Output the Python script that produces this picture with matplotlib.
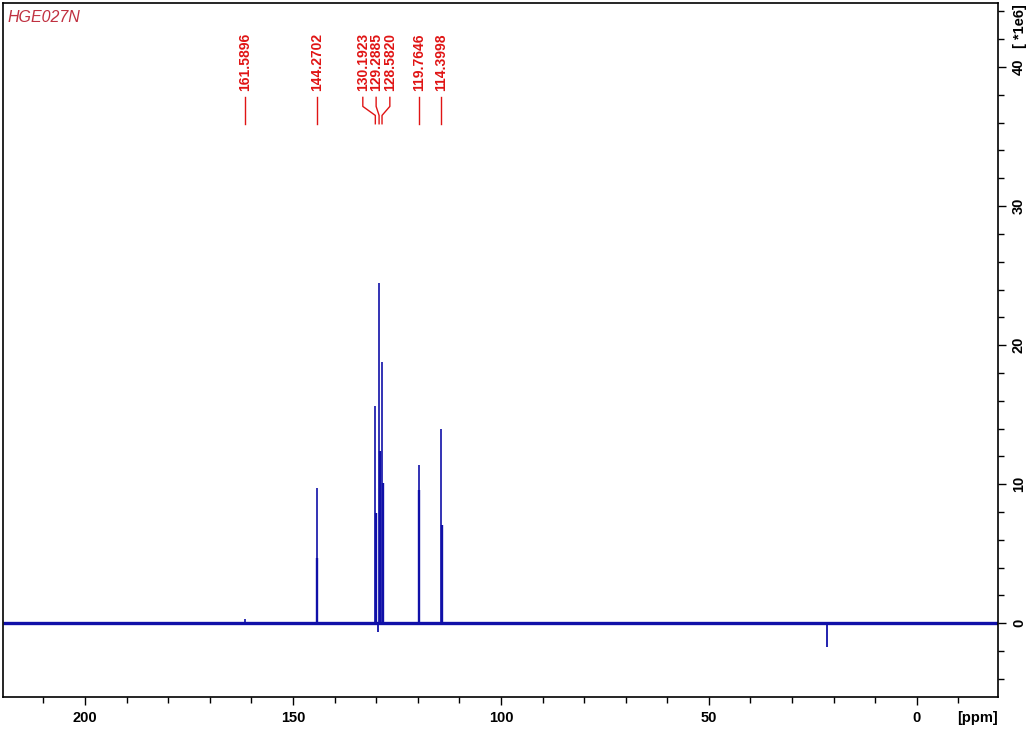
import matplotlib.pyplot as plt
from matplotlib import transforms

plt.rcParams['font.family'] = ['Liberation Sans', 'DejaVu Sans']

# peaks (ppm, tallest point, second point in the peak, in *1e6)
peak_ppm = [161.5896, 144.2702, 130.1923, 129.2885, 128.5820, 119.7646, 114.3998]
peak_top = [0.3, 9.7, 15.6, 24.5, 18.8, 11.4, 14.0]
peak_side = [0.1, 4.7, 7.9, 12.4, 10.1, 9.6, 7.1]
neg_ppm = [21.5, 129.5]
neg_val = [-1.7, -0.6]

# peak label texts and where the labels sit (ppm)
label_text = ['161.5896', '144.2702', '130.1923', '129.2885', '128.5820', '119.7646', '114.3998']
label_ppm = [161.5896, 144.2702, 133.2, 130.0, 126.7, 119.7646, 114.3998]

x_range = (219.7, -19.5)
y_range = (-5.3, 44.6)

blue = '#1010a8'
red = '#e01414'

fig = plt.figure(figsize=(10.33, 7.30), dpi=100)
ax = fig.add_axes([3 / 1033, 33 / 730, 995 / 1033, 694 / 730])

# baseline + peaks
ax.plot(x_range, [0, 0], color=blue, lw=2.4, solid_capstyle='butt')
ax.vlines(peak_ppm, 0, peak_top, color=blue, lw=1.2)
ax.vlines([p - 0.12 for p in peak_ppm], 0, peak_side, color=blue, lw=1.7)
ax.vlines(neg_ppm, 0, neg_val, color=blue, lw=1.3)

ax.set_xlim(*x_range)
ax.set_ylim(*y_range)

# peak labels with connector lines
tr = transforms.blended_transform_factory(ax.transData, ax.transAxes)
for txt, lp, pp in zip(label_text, label_ppm, peak_ppm):
    ax.text(lp, 0.873, txt, transform=tr, rotation=90, ha='center', va='bottom',
            color=red, fontsize=10, fontweight='bold')
    ax.plot([lp, lp, pp, pp], [0.864, 0.851, 0.838, 0.826], transform=tr,
            color=red, lw=1.0, clip_on=False)

ax.text(0.005, 0.99, 'HGE027N', transform=ax.transAxes, ha='left', va='top',
        color='#c03040', fontsize=11.5, fontstyle='italic')

# axes styling
ax.set_xticks([200, 150, 100, 50, 0])
ax.set_xticks(range(210, -20, -10), minor=True)
ax.yaxis.tick_right()
ax.set_yticks([0, 10, 20, 30, 40])
ax.set_yticks(range(-4, 45, 2), minor=True)
ax.tick_params(axis='x', which='major', length=6, width=1, pad=4, labelsize=10.5)
ax.tick_params(axis='x', which='minor', length=4, width=1)
ax.tick_params(axis='y', which='major', length=6, width=1, pad=4, labelsize=10.5,
               labelrotation=90)
ax.tick_params(axis='y', which='minor', length=4, width=1)
for lab in ax.get_xticklabels() + ax.get_yticklabels():
    lab.set_fontweight('bold')
for lab in ax.get_yticklabels():
    lab.set_va('center')
for sp in ax.spines.values():
    sp.set_linewidth(1.2)

fig.text(977 / 1033, 1 - 718 / 730, '[ppm]', ha='center', va='center',
         fontsize=10.5, fontweight='bold')
fig.text(1020 / 1033, 1 - 26 / 730, '[ *1e6]', ha='center', va='center',
         rotation=90, fontsize=10.5, fontweight='bold')

fig.savefig('out.png', dpi=100)
